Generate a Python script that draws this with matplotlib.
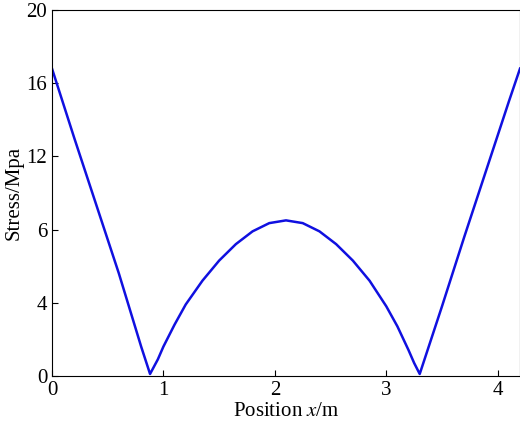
import numpy as np
import matplotlib
matplotlib.use("Agg")
import matplotlib.pyplot as plt

plt.rcParams['font.family'] = ['Liberation Serif', 'DejaVu Serif']
plt.rcParams['mathtext.fontset'] = 'stix'

position = [0.0, 0.2, 0.4, 0.6, 0.8, 0.88, 0.95, 1.0, 1.1, 1.2, 1.35, 1.5, 1.65, 1.8, 1.95,
            2.1, 2.25, 2.4, 2.55, 2.7, 2.85, 3.0, 3.1, 3.2, 3.25, 3.3,
            3.5, 3.7, 3.9, 4.1, 4.2]
stress = [16.8, 13.0, 9.3, 5.6, 1.6, 0.1, 0.9, 1.6, 2.8, 3.9, 5.2, 6.3, 7.2, 7.9, 8.35,
          8.5, 8.35, 7.9, 7.2, 6.3, 5.2, 3.8, 2.7, 1.4, 0.7, 0.1,
          3.8, 7.6, 11.3, 15.0, 16.8]
ytick_vals = [0, 4, 8, 12, 16, 20]
ytick_labels = ["0", "4", "6", "12", "16", "20"]
xtick_vals = [0, 1, 2, 3, 4]

fig = plt.figure(figsize=(5.2, 4.38), dpi=100)
ax = fig.add_axes([0.1, 0.142, 0.9, 0.835])
ax.plot(position, stress, color='#1010e0', linewidth=1.8)
ax.set_xlim(0, 4.2)
ax.set_ylim(0, 20)
ax.set_xticks(xtick_vals)
ax.set_yticks(ytick_vals)
ax.set_yticklabels(ytick_labels)
ax.tick_params(direction='in', labelsize=15, length=4)
ax.set_xlabel("Position $\\it{x}$/m", fontsize=15, labelpad=2)
ax.set_ylabel("Stress/Mpa", fontsize=15, labelpad=2)
fig.savefig("out.png")
